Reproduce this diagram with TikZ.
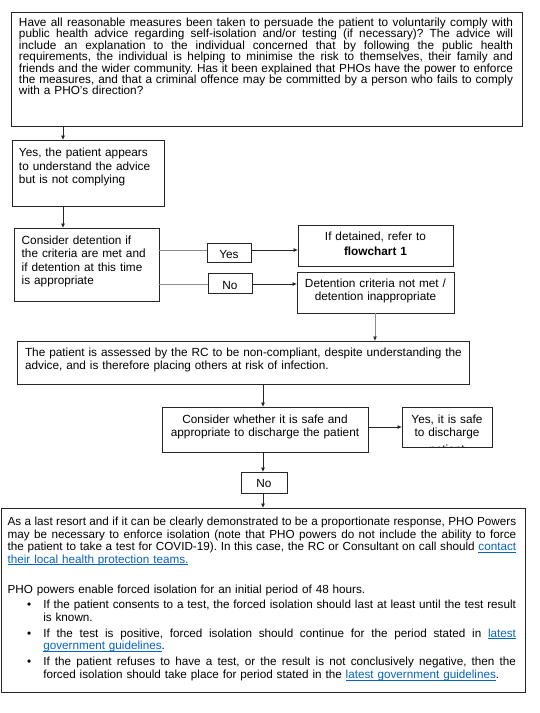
\documentclass[tikz,border=0pt]{standalone}
\usepackage{fontspec}
\setmainfont{Liberation Sans}
\usetikzlibrary{arrows.meta}
\definecolor{linkblue}{HTML}{0563C1}
\definecolor{edgecol}{HTML}{262626}
\definecolor{greyline}{HTML}{8C8C8C}
\newlength\lnkw
\newcommand\lnk[1]{\settowidth\lnkw{#1}\textcolor{linkblue}{\rlap{\rule[-1.8pt]{\lnkw}{0.6pt}}#1}}
\newcommand\jl[2]{\leavevmode\hbox to #1{\spaceskip=0.2778em plus 3em minus 0.1em\relax #2}}
\newcommand\fsz[2]{\fontsize{#1}{#2}\selectfont}
\newcommand\bul{\leavevmode\llap{\textbullet\hspace{12pt}}}
\begin{document}
\frenchspacing
\begin{tikzpicture}[x=1pt,y=-1pt,
  box/.style={draw=edgecol, line width=0.9pt, fill=white, inner sep=0pt, outer sep=0pt, anchor=north west},
  txt/.style={inner sep=0pt, outer sep=0pt, anchor=base west, align=left, text=black},
  ctxt/.style={inner sep=0pt, outer sep=0pt, anchor=base, align=center, text=black},
  arr/.style={draw=edgecol, line width=0.8pt, -{Latex[length=4.5pt,width=4pt]}},
  garr/.style={draw=greyline, line width=0.9pt, -{Latex[length=4.5pt,width=4pt,color=edgecol]}},
  gline/.style={draw=greyline, line width=0.9pt},
  bline/.style={draw=edgecol, line width=0.9pt}]
\fill[white] (0,0) rectangle (540,713);
\useasboundingbox (0,0) rectangle (540,713);

% boxes
\node[box, minimum width=511pt, minimum height=114pt] (b1) at (11,12) {};
\node[box, minimum width=152pt, minimum height=66pt] (b2) at (12,140) {};
\node[box, minimum width=145pt, minimum height=73pt] (b3) at (14,228) {};
\node[box, minimum width=44pt, minimum height=19pt] (yes) at (207,243) {};
\node[box, minimum width=44pt, minimum height=20pt] (no) at (208,273) {};
\node[box, minimum width=155pt, minimum height=41pt] (fc) at (298,225) {};
\node[box, minimum width=157pt, minimum height=41pt] (det) at (297,272) {};
\node[box, minimum width=452pt, minimum height=43pt] (rc) at (17,341) {};
\node[box, minimum width=206pt, minimum height=45pt] (dis) at (162,407) {};
\node[box, minimum width=90pt, minimum height=40pt] (safe) at (402,407) {};
\node[box, minimum width=46pt, minimum height=21pt] (no2) at (241,472) {};
\node[box, minimum width=524pt, minimum height=184pt] (bot) at (1,508) {};

% helper coordinates
\coordinate (xa) at (63,0);
\coordinate (ya) at (0,250);
\coordinate (yb) at (0,284);
\coordinate (xb) at (375,0);
\coordinate (xc) at (263,0);
\coordinate (yc) at (0,427);

% connectors
\draw[arr] (b1.south -| xa) -- (b2.north -| xa);
\draw[arr] (b2.south -| xa) -- (b3.north -| xa);
\draw[gline] (b3.east |- ya) -- (yes.west |- ya);
\draw[arr] (yes.east |- ya) -- (fc.west |- ya);
\draw[gline] (b3.east |- yb) -- (no.west |- yb);
\draw[arr] (no.east |- yb) -- (det.west |- yb);
\draw[garr] (det.south -| xb) -- (rc.north -| xb);
\draw[arr] (rc.south -| xc) -- (dis.north -| xc);
\draw[arr] (dis.east |- yc) -- (safe.west |- yc);
\draw[arr] (dis.south -| xc) -- (no2.north -| xc);
\draw[arr] (no2.south -| xc) -- (bot.north -| xc);

% texts
\node[txt, text width=494pt, font=\fsz{11.8}{11.4}] (t1) at (19,26.5) {%
\jl{494pt}{Have all reasonable measures been taken to persuade the patient to voluntarily comply with}\\
\jl{494pt}{public health advice regarding self-isolation and/or testing (if necessary)? The advice will}\\
\jl{494pt}{include an explanation to the individual concerned that by following the public health}\\
\jl{494pt}{requirements, the individual is helping to minimise the risk to themselves, their family and}\\
\jl{494pt}{friends and the wider community. Has it been explained that PHOs have the power to enforce}\\
\jl{494pt}{the measures, and that a criminal offence may be committed by a person who fails to comply}\\
with a PHO’s direction?};

\node[txt, text width=200pt, font=\fsz{11.8}{13.3}] (t2) at (19,156.7) {Yes, the patient appears\\to understand the advice\\but is not complying};
\node[txt, text width=200pt, font=\fsz{11.8}{13.3}] (t3) at (21.7,244.5) {Consider detention if\\the criteria are met and\\if detention at this time\\is appropriate};
\node[ctxt, font=\fsz{11.8}{13}] (tyes) at (229,258) {Yes};
\node[ctxt, font=\fsz{11.8}{13}] (tno) at (230,289) {No};
\node[ctxt, text width=200pt, font=\fsz{11.8}{14.8}] (tfc) at (375.5,240.5) {If detained, refer to\\\textbf{flowchart 1}};
\node[ctxt, text width=200pt, font=\fsz{11.8}{13.5}] (tdet) at (375.5,287.3) {Detention criteria not met /\\detention inappropriate};
\node[txt, text width=500pt, font=\fsz{11.8}{13.2}] (trc) at (25,356.3) {The patient is assessed by the RC to be non-compliant, despite understanding the\\advice, and is therefore placing others at risk of infection.};
\node[ctxt, text width=250pt, font=\fsz{11.8}{13.5}] (tdis) at (265,423) {Consider whether it is safe and\\appropriate to discharge the patient};
\begin{scope}
\clip (safe.north west) rectangle (safe.south east);
\node[ctxt, text width=120pt, font=\fsz{11.8}{13.2}] (tsafe) at (447,423.3) {Yes, it is safe\\to discharge\\[3.6pt]patient};
\end{scope}
\draw[bline] (safe.north west) rectangle (safe.south east);
\node[ctxt, font=\fsz{11.8}{13}] (tno2) at (264,487) {No};

\node[txt, text width=508.6pt, font=\fsz{11.7}{12.5}] (p1) at (7.6,525.5) {%
\jl{508.6pt}{As a last resort and if it can be clearly demonstrated to be a proportionate response, PHO Powers}\\
\jl{508.6pt}{may be necessary to enforce isolation (note that PHO powers do not include the ability to force}\\
\jl{508.6pt}{the patient to take a test for COVID-19). In this case, the RC or Consultant on call should \lnk{contact}}\\
\lnk{their local health protection teams.}};
\node[txt, text width=508.6pt, font=\fsz{11.7}{12.5}] (p2) at (7.6,593) {PHO powers enable forced isolation for an initial period of 48 hours.};
\node[txt, text width=472.7pt, font=\fsz{11.7}{13.2}] (bu1) at (43.3,608.3) {%
\bul\jl{472.7pt}{If the patient consents to a test, the forced isolation should last at least until the test result}\\
is known.};
\node[txt, text width=472.7pt, font=\fsz{11.7}{12.8}] (bu2) at (43.3,637) {%
\bul\jl{472.7pt}{If the test is positive, forced isolation should continue for the period stated in \lnk{latest}}\\
\lnk{government guidelines}.};
\node[txt, text width=472.7pt, font=\fsz{11.7}{12.8}] (bu3) at (43.3,665.5) {%
\bul\jl{472.7pt}{If the patient refuses to have a test, or the result is not conclusively negative, then the}\\
forced isolation should take place for period stated in the \lnk{latest government guidelines}.};
\end{tikzpicture}
\end{document}
